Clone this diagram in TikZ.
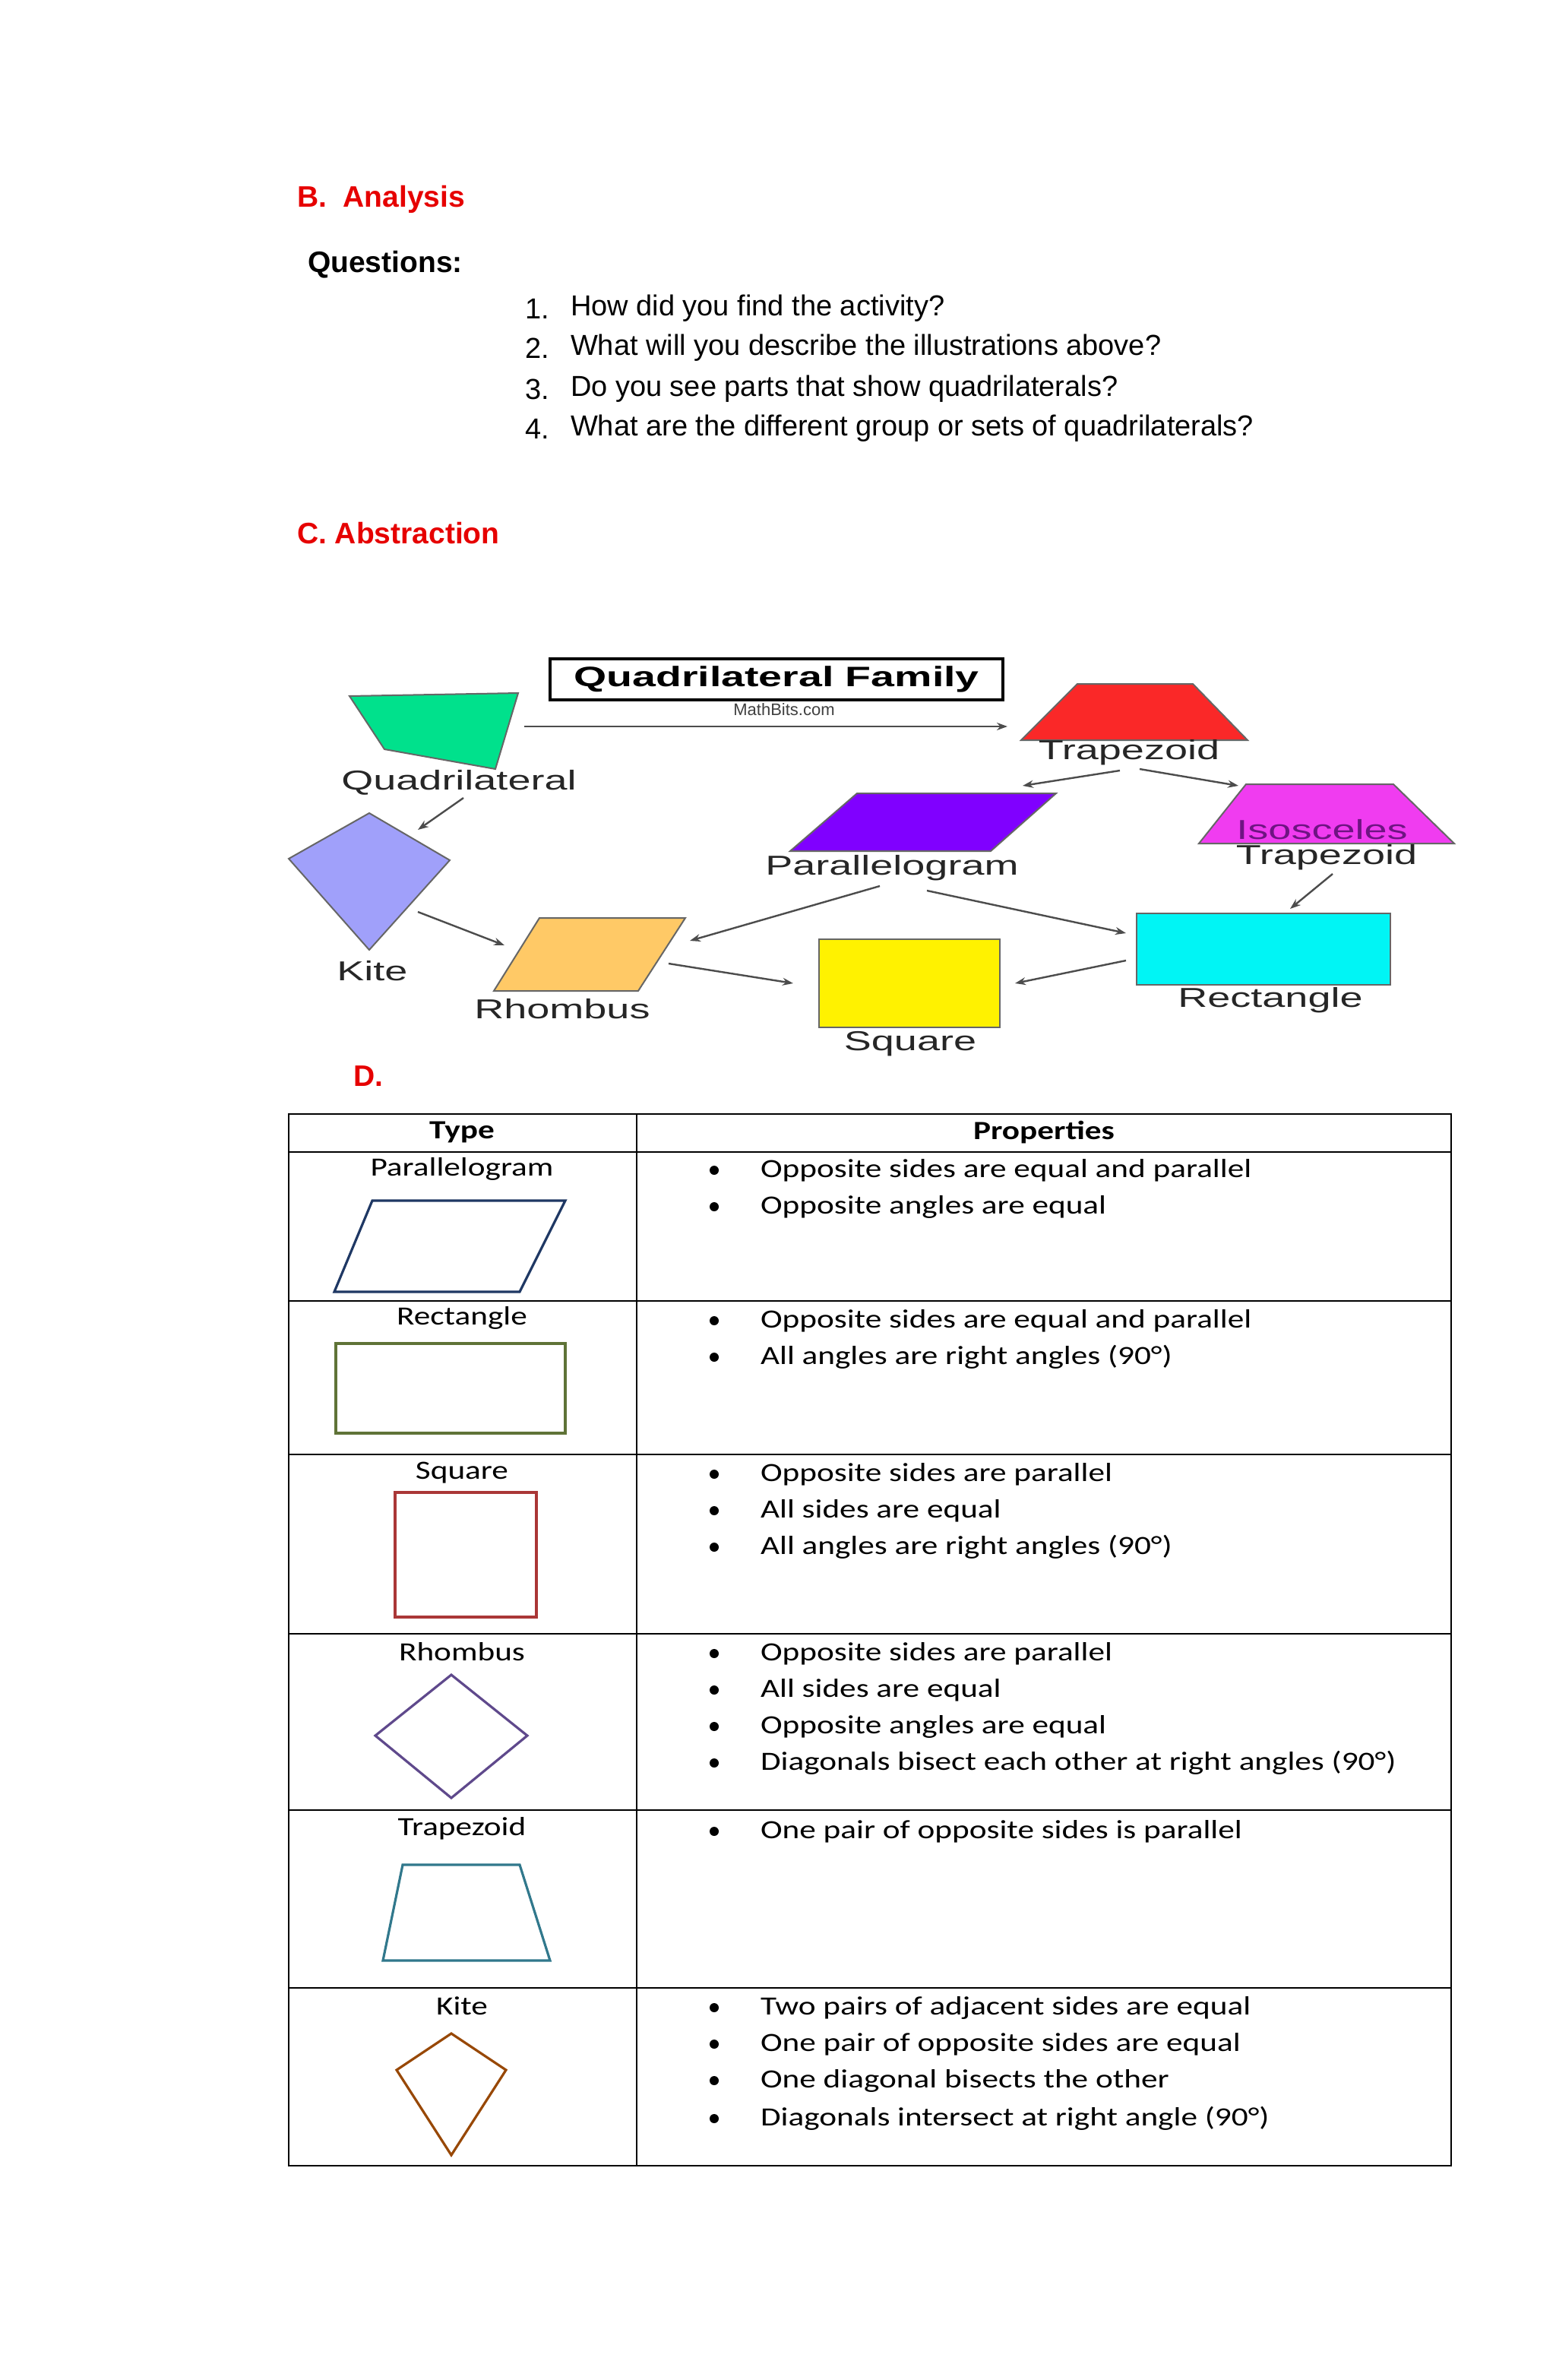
\documentclass[tikz,border=0pt]{standalone}
\usepackage{fontspec}
\setmainfont{Liberation Sans}
\newfontfamily\diag[FakeStretch=1.5]{Liberation Sans}
\newfontfamily\tbl[FakeStretch=1.25]{Carlito}
\usetikzlibrary{arrows.meta}
\definecolor{hred}{RGB}{230,0,0}
\tikzset{
 head/.style={anchor=west,font=\fontsize{19.5}{21}\selectfont\bfseries},
 qtext/.style={anchor=west,font=\fontsize{19}{21}\selectfont},
 dlabel/.style={font=\diag\fontsize{18}{19}\selectfont,text=black!85},
 darr/.style={draw=black!70,line width=1.2pt,-{Stealth[length=7pt,width=5pt]}},
 shp/.style={draw=black!60,line width=1pt},
 tl/.style={font=\tbl\fontsize{17.3}{18}\selectfont},
 prop/.style={anchor=west,font=\tbl\fontsize{17.3}{18}\selectfont},
 bul/.style={circle,fill=black,inner sep=0pt,minimum size=6pt},
 tshape/.style={line width=1.6pt}
}
\begin{document}
\begin{tikzpicture}[x=1pt,y=-1pt]
\useasboundingbox[fill=white] (0,0) rectangle (1024,1566);
\node[head,text=hred] (hb) at (192,131) {B.\ \ Analysis};
\node[head] (hq) at (199,174) {Questions:};
\foreach \n/\t/\y in {1/How did you find the activity?/203,2/What will you describe the illustrations above?/229,3/Do you see parts that show quadrilaterals?/256,4/What are the different group or sets of quadrilaterals?/282}{
 \node[qtext,anchor=west] at (342,\y) {\n.};
 \node[qtext] at (372,\y) {\t};
}
\node[head,text=hred] (hc) at (192,351) {C. Abstraction};
% diagram
\node[draw,line width=2pt,minimum width=298pt,minimum height=27pt,font=\diag\fontsize{18.5}{19}\selectfont\bfseries] (title) at (511,447) {Quadrilateral Family};
\node[font=\fontsize{11}{12}\selectfont,text=black!75] (mb) at (516,467) {MathBits.com};
\filldraw[shp,fill={rgb,255:red,0;green,225;blue,140}] (230,458) -- (341,456) -- (326,506) -- (253,493) -- cycle;
\coordinate (qa) at (345,478); \coordinate (qb) at (663,478);
\draw[darr] (qa) -- (qb);
\filldraw[shp,fill={rgb,255:red,250;green,40;blue,40}] (672,487) -- (709,450) -- (785,450) -- (821,487) -- cycle;
\node[dlabel] (ltrap) at (743,495) {Trapezoid};
\node[dlabel] (lquad) at (302,515) {Quadrilateral};
\filldraw[shp,fill={rgb,255:red,160;green,160;blue,250}] (243,535) -- (296,566) -- (243,625) -- (190,565) -- cycle;
\node[dlabel] (lkite) at (245,639) {Kite};
\filldraw[shp,fill={rgb,255:red,255;green,201;blue,102}] (355,604) -- (451,604) -- (420,652) -- (325,652) -- cycle;
\node[dlabel] (lrhom) at (370,664) {Rhombus};
\filldraw[shp,fill=yellow] (539,618) rectangle (658,676);
\node[dlabel] (lsq) at (599,687) {Square};
\filldraw[shp,fill={rgb,255:red,128;green,0;blue,255}] (564,522) -- (695,522) -- (652,560) -- (520,560) -- cycle;
\node[dlabel] (lpar) at (587,571) {Parallelogram};
\filldraw[shp,fill={rgb,255:red,240;green,60;blue,240}] (820,516) -- (917,516) -- (957,555) -- (789,555) -- cycle;
\node[dlabel,text={rgb,255:red,110;green,20;blue,130}] (liso) at (870,546) {Isosceles};
\node[dlabel] (liso2) at (873,564) {Trapezoid};
\filldraw[shp,fill={rgb,255:red,0;green,245;blue,245}] (748,601) rectangle (915,648);
\node[dlabel] (lrect) at (836,658) {Rectangle};
\coordinate (a1) at (305,525); \coordinate (b1) at (275,546);
\coordinate (a2) at (275,600); \coordinate (b2) at (332,622);
\coordinate (a3) at (440,634); \coordinate (b3) at (522,647);
\coordinate (a4) at (737,507); \coordinate (b4) at (673,517);
\coordinate (a5) at (750,506); \coordinate (b5) at (815,517);
\coordinate (a6) at (877,575); \coordinate (b6) at (849,598);
\coordinate (a7) at (579,583); \coordinate (b7) at (454,619);
\coordinate (a8) at (610,586); \coordinate (b8) at (741,614);
\coordinate (a9) at (741,632); \coordinate (b9) at (668,647);
\foreach \i in {1,...,9}{\draw[darr] (a\i) -- (b\i);}
\node[head,text=hred] (hd) at (229,708) {D.};
% table
\draw[line width=1.2pt] (190,733) rectangle (955,1425);
\draw[line width=1.2pt] (419,733) -- (419,1425);
\foreach \y in {758,856,957,1075,1191,1308}{\draw[line width=1.2pt] (190,\y) -- (955,\y);}
\node[tl,font=\tbl\fontsize{17.3}{18}\selectfont\bfseries] (ht) at (304,745) {Type};
\node[tl,font=\tbl\fontsize{17.3}{18}\selectfont\bfseries] (hp) at (687,745) {Properties};
\node[tl] at (304,769) {Parallelogram};
\node[tl] at (304,867) {Rectangle};
\node[tl] at (304,969) {Square};
\node[tl] at (304,1087) {Rhombus};
\node[tl] at (304,1203) {Trapezoid};
\node[tl] at (304,1320) {Kite};
\draw[tshape,draw={rgb,255:red,31;green,56;blue,100}] (245,790) -- (372,790) -- (342,850) -- (220,850) -- cycle;
\draw[tshape,draw={rgb,255:red,95;green,115;blue,55}] (221,884) rectangle (372,943);
\draw[tshape,draw={rgb,255:red,170;green,55;blue,55}] (260,982) rectangle (353,1064);
\draw[tshape,draw={rgb,255:red,95;green,73;blue,140}] (297,1102) -- (347,1142) -- (297,1183) -- (247,1142) -- cycle;
\draw[tshape,draw={rgb,255:red,49;green,120;blue,140}] (265,1227) -- (342,1227) -- (362,1290) -- (252,1290) -- cycle;
\draw[tshape,draw={rgb,255:red,152;green,72;blue,6}] (297,1338) -- (333,1362) -- (297,1418) -- (261,1362) -- cycle;
\foreach \y/\t in {770/Opposite sides are equal and parallel,794/Opposite angles are equal,
869/Opposite sides are equal and parallel,893/All angles are right angles (90°),
970/Opposite sides are parallel,994/All sides are equal,1018/All angles are right angles (90°),
1088/Opposite sides are parallel,1112/All sides are equal,1136/Opposite angles are equal,1160/Diagonals bisect each other at right angles (90°),
1205/One pair of opposite sides is parallel,
1321/Two pairs of adjacent sides are equal,1345/One pair of opposite sides are equal,1369/One diagonal bisects the other,1394/Diagonals intersect at right angle (90°)}{
 \node[bul] at (470,\y) {};
 \node[prop] at (497,\y) {\t};
}
\end{tikzpicture}
\end{document}
